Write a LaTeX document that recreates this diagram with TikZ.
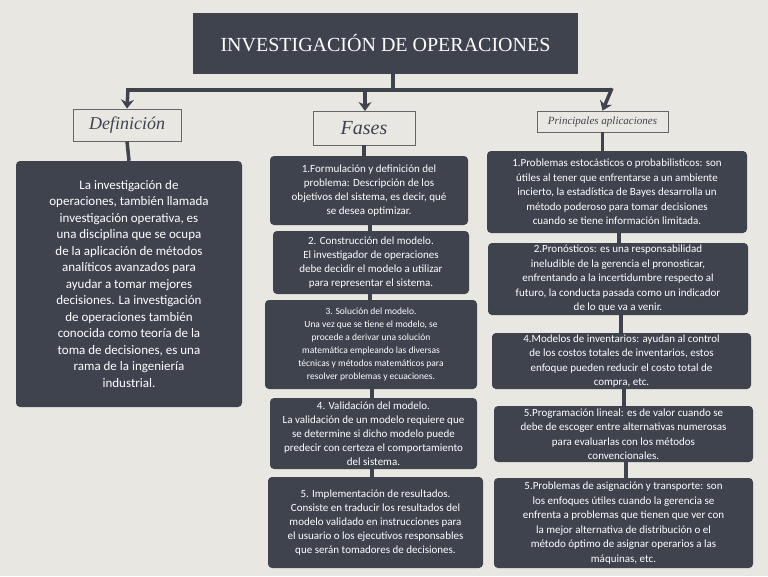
\documentclass[tikz,border=0pt]{standalone}
\usepackage{fontspec}
\setmainfont{Carlito}
\newfontfamily\titlefont{Liberation Serif}
\usetikzlibrary{arrows.meta}
\definecolor{bgc}{HTML}{E8E7E2}
\definecolor{boxc}{HTML}{3E434E}
\begin{document}
\begin{tikzpicture}[x=1pt,y=-1pt,
  dbox/.style={fill=boxc,rounded corners=4pt,text=white,align=center,inner sep=0pt},
  lbl/.style={draw=gray!80!black,fill=bgc,line width=0.8pt,text=boxc,font=\titlefont\itshape,inner sep=0pt},
  conn/.style={draw=boxc,line width=3.5pt},
  arr/.style={draw=boxc,line width=3.5pt,-{Stealth[length=9pt,width=13pt]}}]
\fill[bgc] (0,0) rectangle (768,576);
\useasboundingbox (0,0) rectangle (768,576);
% title
\node[fill=boxc,minimum width=385,minimum height=61,inner sep=0pt,text=white,font=\titlefont\fontsize{20}{24}\selectfont] (title) at (385.5,43.5) {INVESTIGACIÓN DE OPERACIONES};
% labels
\node[lbl,minimum width=108,minimum height=32,font=\titlefont\itshape\fontsize{18}{20}\selectfont] (def) at (127,125) {Definición};
\node[lbl,minimum width=102,minimum height=34,font=\titlefont\itshape\fontsize{20}{22}\selectfont] (fas) at (364,128) {Fases};
\node[lbl,minimum width=131,minimum height=21,font=\titlefont\itshape\fontsize{11}{13}\selectfont] (apl) at (602.5,121.5) {Principales aplicaciones};
\coordinate (j) at (393,90);
\draw[conn] (title.south -| j) -- (j);
\draw[conn] (128,90) -- (612,90);
\draw[arr] (128,88.25) -- (def.north);
\draw[arr] (365,88.25) -- (365,111);
\draw[arr] (612,88.25) -- (apl.north);
% boxes
\node[dbox,minimum width=226,minimum height=246,font=\fontsize{13}{16.5}\selectfont] (d1) at (129,284) {La investigación de\\operaciones, también llamada\\investigación operativa, es\\una disciplina que se ocupa\\de la aplicación de métodos\\analíticos avanzados para\\ayudar a tomar mejores\\decisiones. La investigación\\de operaciones también\\conocida como teoría de la\\toma de decisiones, es una\\rama de la ingeniería\\industrial.};
\draw[conn] (def.south) -- (d1.north);
\tikzset{fs/.style={dbox,font=\fontsize{11}{14}\selectfont}}
\node[fs,minimum width=198,minimum height=69] (f1) at (369,190.5) {1.Formulación y definición del\\problema: Descripción de los\\objetivos del sistema, es decir, qué\\se desea optimizar.};
\node[fs,minimum width=196,minimum height=63] (f2) at (371,262.5) {2. Construcción del modelo.\\El investigador de operaciones\\debe decidir el modelo a utilizar\\para representar el sistema.};
\node[dbox,minimum width=212,minimum height=89,font=\fontsize{9.5}{13}\selectfont] (f3) at (371,344.5) {3. Solución del modelo.\\Una vez que se tiene el modelo, se\\procede a derivar una solución\\matemática empleando las diversas\\técnicas y métodos matemáticos para\\resolver problemas y ecuaciones.};
\node[fs,minimum width=207,minimum height=71] (f4) at (373.5,433.5) {4. Validación del modelo.\\La validación de un modelo requiere que\\se determine si dicho modelo puede\\predecir con certeza el comportamiento\\del sistema.};
\node[fs,minimum width=215,minimum height=91] (f5) at (375.5,522.5) {5. Implementación de resultados.\\Consiste en traducir los resultados del\\modelo validado en instrucciones para\\el usuario o los ejecutivos responsables\\que serán tomadores de decisiones.};
\draw[conn] (fas.south) -- (fas.south |- f1.north);
\draw[conn] (370,225) -- (370,231);
\draw[conn] (370,294) -- (370,300);
\draw[conn] (372,389) -- (372,398);
\draw[conn] (372,469) -- (372,477);
\tikzset{as/.style={dbox,font=\fontsize{11}{14.5}\selectfont}}
\node[as,minimum width=260,minimum height=82] (a1) at (617,192) {1.Problemas estocásticos o probabilisticos: son\\útiles al tener que enfrentarse a un ambiente\\incierto, la estadística de Bayes desarrolla un\\método poderoso para tomar decisiones\\cuando se tiene información limitada.};
\node[as,minimum width=260,minimum height=72] (a2) at (618,279) {2.Pronósticos: es una responsabilidad\\ineludible de la gerencia el pronosticar,\\enfrentando a la incertidumbre respecto al\\futuro, la conducta pasada como un indicador\\de lo que va a venir.};
\node[as,minimum width=259,minimum height=56] (a3) at (621.5,361) {4.Modelos de inventarios: ayudan al control\\de los costos totales de inventarios, estos\\enfoque pueden reducir el costo total de\\compra, etc.};
\node[as,minimum width=259,minimum height=56] (a4) at (623.5,434) {5.Programación lineal: es de valor cuando se\\debe de escoger entre alternativas numerosas\\para evaluarlas con los métodos\\convencionales.};
\node[as,minimum width=259,minimum height=90] (a5) at (623.5,523) {5.Problemas de asignación y transporte: son\\los enfoques útiles cuando la gerencia se\\enfrenta a problemas que tienen que ver con\\la mejor alternativa de distribución o el\\método óptimo de asignar operarios a las\\máquinas, etc.};
\draw[conn] (apl.south) -- (apl.south |- a1.north);
\draw[conn] (619,233) -- (619,243);
\draw[conn] (621,315) -- (621,333);
\draw[conn] (624,389) -- (624,406);
\draw[conn] (626,462) -- (626,478);
\end{tikzpicture}
\end{document}
